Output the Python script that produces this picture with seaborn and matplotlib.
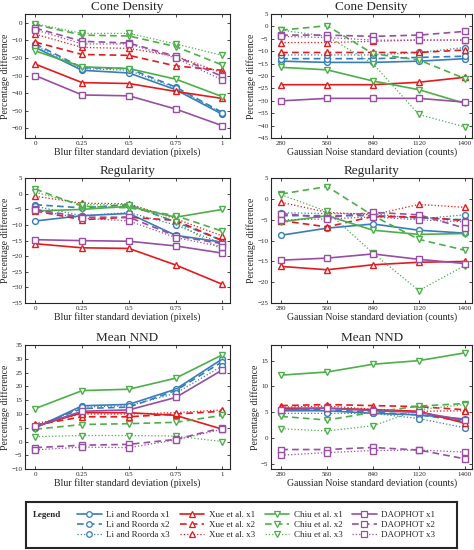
import pandas as pd
import seaborn as sns
import matplotlib.pyplot as plt
from matplotlib.lines import Line2D

sns.set_style('ticks')
plt.rcParams['font.family'] = ['Liberation Serif', 'DejaVu Serif']

blur_x = [0, 0.25, 0.5, 0.75, 1]
noise_x = [280, 560, 840, 1120, 1400]
blur_ticks = ['0', '0.25', '0.5', '0.75', '1']
noise_ticks = ['280', '560', '840', '1120', '1400']

methods = ['Li and Roorda', 'Xue et al.', 'Chiu et al.', 'DAOPHOT']
scales = ['x1', 'x2', 'x3']

# values per panel, order: method x1, x2, x3
cone_blur = {
    'Li and Roorda': [[-14, -27, -28.5, -38, -52], [-12, -25.5, -26, -36.5, -51], [-13, -26, -27, -37, -51.5]],
    'Xue et al.': [[-23.5, -34, -34.5, -39, -43], [-11, -18, -18.5, -24.5, -27], [-6.5, -14, -14.5, -19, -28.5]],
    'Chiu et al.': [[-16, -25, -26, -32, -42], [-1, -7, -7.5, -13.5, -24], [-0.5, -6, -6, -12, -18.5]],
    'DAOPHOT': [[-30, -41, -41.5, -49, -58.5], [-3, -10.5, -11.5, -19, -30.5], [-4, -12, -12, -20, -32.5]],
}
cone_noise = {
    'Li and Roorda': [[-14, -14.5, -14.5, -14, -13], [-13, -13, -13, -12.5, -12], [-11.5, -11.5, -11.5, -10.5, -8.5]],
    'Xue et al.': [[-23.5, -23.5, -23.5, -22.5, -20.5], [-10.5, -10.5, -10.5, -10.5, -9.5], [-6.5, -6.5, -6, -5.5, -5.5]],
    'Chiu et al.': [[-16.5, -17.5, -22, -25.5, -31], [-1.5, 0.3, -11, -13.5, -21], [-1.5, -4, -15, -35.5, -40.5]],
    'DAOPHOT': [[-30, -29, -29, -29, -30.5], [-3.5, -3.5, -4, -3.5, -2], [-4, -4.5, -5.5, -5.5, -5.5]],
}
reg_blur = {
    'Li and Roorda': [[-8.7, -7, -6.3, -13.3, -15.5], [-3.5, -4.5, -3.5, -9, -15], [-4, -7, -6, -10, -16]],
    'Xue et al.': [[-16, -17.3, -17.5, -22.8, -29], [-5.5, -8.3, -7.5, -8.5, -15], [-0.8, -3, -3.2, -8, -13.5]],
    'Chiu et al.': [[-5.5, -5, -4, -7.5, -5], [1.5, -4, -4.5, -7, -12], [0.5, -3.5, -3.5, -9, -18]],
    'DAOPHOT': [[-14.7, -15, -15.2, -16.7, -19], [-5, -7.5, -7.5, -13.5, -16], [-5.3, -7.8, -8.7, -14, -17]],
}
reg_noise = {
    'Li and Roorda': [[-8.7, -7, -6, -7.5, -8.2], [-4, -4, -4, -4.5, -5], [-3.3, -3.5, -3.5, -4.8, -3.8]],
    'Xue et al.': [[-16.2, -17, -15.8, -15.2, -15], [-5.2, -6.7, -4.2, -4.3, -5.2], [-0.8, -3.2, -3.8, -1.3, -2]],
    'Chiu et al.': [[-5.5, -4, -7.5, -8.5, -8.3], [1.2, 3, -4, -9.7, -12.3], [1, -3, -13, -22, -16]],
    'DAOPHOT': [[-14.7, -14.2, -13.2, -14.5, -15.5], [-3.5, -4.5, -3.2, -3.8, -7], [-5, -4.8, -4.3, -5, -5.5]],
}
nnd_blur = {
    'Li and Roorda': [[5, 13, 13.5, 19, 30], [5.5, 12, 12.5, 18.5, 29], [5, 12.5, 13, 17.5, 27.5]],
    'Xue et al.': [[5.5, 10.5, 10.5, 9.5, 4.5], [6, 9, 9, 10, 11], [6.5, 10, 10, 10.5, 11.5]],
    'Chiu et al.': [[12, 18.5, 19, 23, 31.5], [4.5, 6.2, 6.5, 7, 9.5], [1.8, 2.2, 2.2, 2, 0]],
    'DAOPHOT': [[5.5, 11, 11.5, 16, 26], [-2.2, -1.3, -1, 0.8, 5], [-3, -2, -2.2, 0.6, 4.5]],
}
nnd_noise = {
    'Li and Roorda': [[5.3, 5.3, 4.8, 4.5, 3.7], [5.5, 5.5, 5, 4.5, 3.3], [4.8, 4.8, 4.8, 3.8, 2]],
    'Xue et al.': [[5.8, 5.8, 5.5, 5.2, 2.9], [6.3, 6.5, 6.3, 6.1, 5.5], [6, 6.2, 5.6, 5.2, 5.3]],
    'Chiu et al.': [[12.2, 12.8, 14.3, 15, 16.5], [4.2, 3.5, 5, 6.2, 6.7], [1.8, 1.4, 2.4, 5.5, 6.5]],
    'DAOPHOT': [[5.5, 5.8, 5.3, 5, 3.5], [-2.2, -2.2, -1.8, -2.3, -4], [-3.3, -2.8, -2.4, -2.3, -2.7]],
}

pal = sns.color_palette('Set1')
colors = dict(zip(methods, [pal[1], pal[0], pal[2], pal[3]]))
markers = dict(zip(methods, ['o', '^', 'v', 's']))
styles = {'x1': ('-', 1.2), 'x2': ((0, (4, 2.5)), 1.2), 'x3': (':', 0.9)}

fig = plt.figure(figsize=(4.74, 5.5), dpi=100)

panels = [
    (cone_blur, blur_x, blur_ticks, 'Cone Density', (-65.5, 5), range(-60, 1, 10), 'Blur filter standard deviation (pixels)', [0.053, 0.749, 0.432, 0.2255]),
    (cone_noise, noise_x, noise_ticks, 'Cone Density', (-45, 5), range(-45, 6, 5), 'Gaussian Noise standard deviation (counts)', [0.572, 0.749, 0.424, 0.2255]),
    (reg_blur, blur_x, blur_ticks, 'Regularity', (-35, 5), range(-35, 6, 5), 'Blur filter standard deviation (pixels)', [0.053, 0.449, 0.432, 0.227]),
    (reg_noise, noise_x, noise_ticks, 'Regularity', (-25, 5), range(-25, 6, 5), 'Gaussian Noise standard deviation (counts)', [0.572, 0.449, 0.424, 0.227]),
    (nnd_blur, blur_x, blur_ticks, 'Mean NND', (-10, 35), range(-10, 36, 5), 'Blur filter standard deviation (pixels)', [0.053, 0.147, 0.432, 0.2255]),
    (nnd_noise, noise_x, noise_ticks, 'Mean NND', (-6, 18), range(-5, 16, 5), 'Gaussian Noise standard deviation (counts)', [0.572, 0.147, 0.424, 0.2255]),
]

for data, xs, xt, title, ylim, yt, xlabel, pos in panels:
    ax = fig.add_axes(pos)
    for m in methods:
        for k, sc in enumerate(scales):
            ls, lw = styles[sc]
            sns.lineplot(x=xs, y=data[m][k], ax=ax, color=colors[m], linestyle=ls, linewidth=lw,
                         marker=markers[m], markersize=4.2, markerfacecolor='white',
                         markeredgecolor=colors[m], markeredgewidth=1.0)
    span = xs[-1] - xs[0]
    ax.set_xlim(xs[0] - 0.055 * span, xs[-1] + 0.04 * span)
    ax.set_xticks(xs)
    ax.set_xticklabels(xt)
    ax.set_ylim(*ylim)
    ax.set_yticks(list(yt))
    ax.tick_params(direction='in', top=True, right=True, labelsize=5, length=2.5, width=0.6, pad=2)
    for s in ax.spines.values():
        s.set_linewidth(0.8)
    ax.set_title(title, fontsize=9.5, pad=3)
    ax.set_xlabel(xlabel, fontsize=7, labelpad=1)
    ax.set_ylabel('Percentage difference', fontsize=7, labelpad=1)

# legend box
lax = fig.add_axes([0.055, 0.003, 0.909, 0.085])
lax.set_xticks([])
lax.set_yticks([])
for s in lax.spines.values():
    s.set_linewidth(1.5)
lax.text(0.016, 0.72, 'Legend', fontsize=6.5, fontweight='bold', transform=lax.transAxes, va='center')
handles, labels = [], []
for m in methods:
    for sc in scales:
        ls, lw = styles[sc]
        handles.append(Line2D([], [], color=colors[m], linestyle=ls, linewidth=lw, marker=markers[m],
                              markersize=4, markerfacecolor='white', markeredgecolor=colors[m],
                              markeredgewidth=0.9))
        labels.append(f'{m} {sc}')
lax.legend(handles, labels, ncol=4, loc='center left', bbox_to_anchor=(0.1, 0.5), frameon=False,
           fontsize=6.5, handlelength=2.7, handletextpad=0.5, columnspacing=1.1, labelspacing=0.2)

fig.savefig('out.png', dpi=100)
